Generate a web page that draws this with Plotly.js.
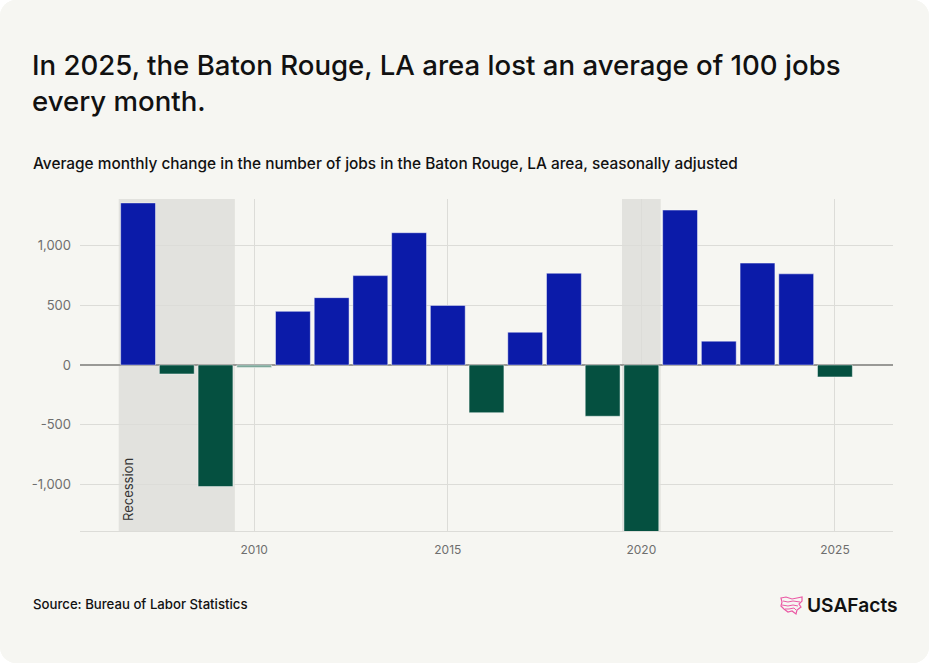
<!DOCTYPE html>
<html>
<head>
<meta charset="utf-8">
<script src="https://cdn.plot.ly/plotly-3.0.1.min.js"></script>
<style>
  html, body { margin: 0; padding: 0; background: #ffffff; }
  #card { width: 929px; height: 663px; border-radius: 16px; overflow: hidden; background: #f6f6f2; }
  #chart { width: 929px; height: 663px; }
</style>
</head>
<body>
<div id="card"><div id="chart"></div></div>
<script>
// Average monthly change in jobs, Baton Rouge LA metro, by year
const years = [2007, 2008, 2009, 2010, 2011, 2012, 2013, 2014, 2015, 2016,
               2017, 2018, 2019, 2020, 2021, 2022, 2023, 2024, 2025];
const avgMonthlyChange = [1360, -75, -1020, -20, 450, 565, 750, 1110, 500, -400,
                          275, 770, -430, -1400, 1300, 200, 855, 765, -100];

// Recession periods shaded behind the bars
const recessionStarts = [2006.5, 2019.5];
const recessionEnds = [2009.5, 2020.5];

const yTickVals = [-1000, -500, 0, 500, 1000];
const yTickText = ['-1,000', '-500', '0', '500', '1,000'];
const xTickVals = [2010, 2015, 2020, 2025];

const BLUE = '#0b1ba9';
const GREEN = '#055040';
const PALE_GREEN = '#76a396';
const FONT = 'Inter, "Noto Sans", sans-serif';

const barColors = avgMonthlyChange.map(v =>
  v >= 0 ? BLUE : (Math.abs(v) < 50 ? PALE_GREEN : GREEN));

const shapes = recessionStarts.map((s, i) => ({
  type: 'rect', xref: 'x', yref: 'paper',
  x0: s, x1: recessionEnds[i], y0: 0, y1: 1,
  fillcolor: '#e2e2de', line: { width: 0 }, layer: 'below'
}));

// USAFacts map mark (small outline with stripes)
const L = 80, T = 199, W = 813, H = 332;
const px = x => (x - L) / W;
const py = y => (T + H - y) / H;
function pathFrom(points) {
  return points.map((p, i) => (i ? 'L' : 'M') + px(p[0]).toFixed(4) + ',' + py(p[1]).toFixed(4)).join(' ');
}
const logoOutline = pathFrom([[781,598],[786,597],[792,599],[797,598],[802,597],[802,601],[799,604],
  [801,607],[797,610],[796,614],[792,611],[788,612],[784,609],[781,606],[782,602],[781,598]]) + ' Z';
const logoStripes = [
  pathFrom([[783,601],[788,602],[793,601],[800,602]]),
  pathFrom([[782,605],[788,606],[793,605],[798,606]]),
  pathFrom([[785,609],[789,609],[794,608],[796,610]])
];
shapes.push({ type: 'path', xref: 'paper', yref: 'paper', path: logoOutline,
  line: { color: '#ea5aa5', width: 1.2 }, fillcolor: 'rgba(0,0,0,0)' });
logoStripes.forEach(p => shapes.push({ type: 'path', xref: 'paper', yref: 'paper', path: p,
  line: { color: '#ea5aa5', width: 1 } }));

const trace = {
  type: 'bar',
  x: years,
  y: avgMonthlyChange,
  width: 0.9,
  marker: { color: barColors, line: { color: 'rgba(255,255,255,0.45)', width: 1 } },
  hoverinfo: 'skip'
};

const layout = {
  width: 929, height: 663,
  paper_bgcolor: '#f6f6f2',
  plot_bgcolor: '#f6f6f2',
  margin: { l: L, r: 929 - L - W, t: T, b: 663 - T - H },
  showlegend: false,
  font: { family: FONT, color: '#6e6e6e', size: 13 },
  title: {
    text: 'In 2025, the Baton Rouge, LA area lost an average of 100 jobs<br>every month.',
    xref: 'container', yref: 'container', x: 32 / 929, xanchor: 'left',
    y: 1 - 75 / 663, yanchor: 'top',
    font: { family: FONT, size: 27.6, color: '#111111', weight: 500 }
  },
  xaxis: {
    range: [2005.5, 2026.5],
    tickvals: xTickVals,
    showgrid: true, gridcolor: '#dcdcd8', gridwidth: 1,
    zeroline: false,
    showline: true, linecolor: '#dcdcd8', linewidth: 1,
    ticks: '', ticklabelstandoff: 8,
    tickfont: { family: FONT, size: 12, color: '#6e6e6e' },
    fixedrange: true
  },
  yaxis: {
    range: [-1393, 1393],
    tickvals: yTickVals,
    ticktext: yTickText,
    showgrid: true, gridcolor: '#dcdcd8', gridwidth: 1,
    zeroline: true, zerolinecolor: '#999996', zerolinewidth: 1.5,
    ticks: '', ticklabelstandoff: 8,
    tickfont: { family: FONT, size: 13, color: '#6e6e6e' },
    fixedrange: true
  },
  shapes: shapes,
  annotations: [
    {
      text: 'Average monthly change in the number of jobs in the Baton Rouge, LA area, seasonally adjusted',
      xref: 'paper', yref: 'paper', x: px(31), y: py(163), xanchor: 'left', yanchor: 'middle',
      showarrow: false, font: { family: FONT, size: 15.4, color: '#111111', weight: 500 }
    },
    {
      text: 'Recession', textangle: -90,
      xref: 'x', yref: 'paper', x: 2006.74, y: py(490), xanchor: 'center', yanchor: 'middle',
      showarrow: false, font: { family: FONT, size: 13, color: '#333333' }
    },
    {
      text: 'Source: Bureau of Labor Statistics',
      xref: 'paper', yref: 'paper', x: px(31), y: py(604), xanchor: 'left', yanchor: 'middle',
      showarrow: false, font: { family: FONT, size: 13.2, color: '#111111', weight: 500 }
    },
    {
      text: 'USAFacts',
      xref: 'paper', yref: 'paper', x: px(805), y: py(605), xanchor: 'left', yanchor: 'middle',
      showarrow: false, font: { family: FONT, size: 19.2, color: '#111111', weight: 600 }
    }
  ]
};

Plotly.newPlot('chart', [trace], layout, { staticPlot: true, displayModeBar: false });
</script>
</body>
</html>
